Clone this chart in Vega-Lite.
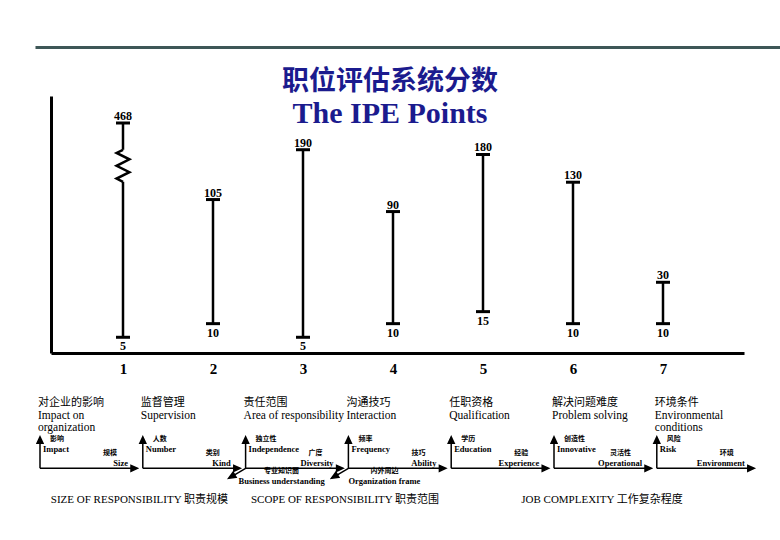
{
  "$schema": "https://vega.github.io/schema/vega-lite/v6.json",
  "width": 780,
  "height": 540,
  "autosize": "none",
  "padding": 0,
  "background": "white",
  "title": {
    "text": "职位评估系统分数",
    "subtitle": "The IPE Points",
    "anchor": "middle",
    "frame": "group",
    "offset": -130,
    "font": "Noto Sans CJK SC",
    "fontSize": 27,
    "fontWeight": "bold",
    "color": "#1b1b8e",
    "subtitleFont": "Liberation Serif",
    "subtitleFontSize": 30,
    "subtitleFontWeight": "bold",
    "subtitleColor": "#1b1b8e",
    "subtitlePadding": 3
  },
  "data": {
    "name": "factors",
    "values": [
      {"f": 1, "min": 5, "max": 468, "group": "SIZE OF RESPONSIBILITY 职责规模", "zh": "对企业的影响", "en": "Impact on\norganization", "vzh": "影响", "ven": "Impact", "hzh": "规模", "hen": "Size", "dzh": "", "den": "", "dims": 2},
      {"f": 2, "min": 10, "max": 105, "group": "SIZE OF RESPONSIBILITY 职责规模", "zh": "监督管理", "en": "Supervision", "vzh": "人数", "ven": "Number", "hzh": "类别", "hen": "Kind", "dzh": "", "den": "", "dims": 2},
      {"f": 3, "min": 5, "max": 190, "group": "SCOPE OF RESPONSIBILITY 职责范围", "zh": "责任范围", "en": "Area of responsibility", "vzh": "独立性", "ven": "Independence", "hzh": "广度", "hen": "Diversity", "dzh": "专业知识面", "den": "Business understanding", "dims": 3},
      {"f": 4, "min": 10, "max": 90, "group": "SCOPE OF RESPONSIBILITY 职责范围", "zh": "沟通技巧", "en": "Interaction", "vzh": "频率", "ven": "Frequency", "hzh": "技巧", "hen": "Ability", "dzh": "内外周边", "den": "Organization frame", "dims": 3},
      {"f": 5, "min": 15, "max": 180, "group": "JOB COMPLEXITY 工作复杂程度", "zh": "任职资格", "en": "Qualification", "vzh": "学历", "ven": "Education", "hzh": "经验", "hen": "Experience", "dzh": "", "den": "", "dims": 2},
      {"f": 6, "min": 10, "max": 130, "group": "JOB COMPLEXITY 工作复杂程度", "zh": "解决问题难度", "en": "Problem solving", "vzh": "创造性", "ven": "Innovative", "hzh": "灵活性", "hen": "Operational", "dzh": "", "den": "", "dims": 2},
      {"f": 7, "min": 10, "max": 30, "group": "JOB COMPLEXITY 工作复杂程度", "zh": "环境条件", "en": "Environmental\nconditions", "vzh": "风险", "ven": "Risk", "hzh": "环境", "hen": "Environment", "dzh": "", "den": "", "dims": 2}
    ]
  },
  "layer": [
    {
      "encoding": {
        "x": {
          "field": "f",
          "type": "quantitative",
          "scale": {"domain": [0.2, 7.9], "range": [51, 744], "nice": false, "zero": false},
          "axis": {"orient": "bottom", "offset": -187, "values": [1, 2, 3, 4, 5, 6, 7], "format": "d", "ticks": false, "grid": false, "title": null, "domainColor": "black", "domainWidth": 3, "labelFont": "Liberation Serif", "labelFontSize": 15, "labelFontWeight": "bold", "labelColor": "black", "labelPadding": 8, "labelFlush": false}
        }
      },
      "layer": [
        {
          "mark": {"type": "rule", "color": "black", "strokeWidth": 2.5},
          "encoding": {
            "y": {"field": "min", "type": "quantitative", "scale": {"type": "symlog", "constant": 30, "domain": [0, 200, 468, 600], "range": [353, 145.2, 123, 96], "nice": false, "zero": false, "clamp": true}, "axis": {"orient": "left", "offset": -51, "labels": false, "ticks": false, "grid": false, "title": null, "domainColor": "black", "domainWidth": 3}},
            "y2": {"field": "max"}
          }
        },
        {
          "mark": {"type": "tick", "orient": "horizontal", "size": 14, "thickness": 3, "color": "black", "opacity": 1},
          "encoding": {
            "y": {"field": "max", "type": "quantitative", "scale": {"type": "symlog", "constant": 30, "domain": [0, 200, 468, 600], "range": [353, 145.2, 123, 96], "nice": false, "zero": false, "clamp": true}, "axis": {"orient": "left", "offset": -51, "labels": false, "ticks": false, "grid": false, "title": null, "domainColor": "black", "domainWidth": 3}}
          }
        },
        {
          "mark": {"type": "tick", "orient": "horizontal", "size": 14, "thickness": 3, "color": "black", "opacity": 1},
          "encoding": {
            "y": {"field": "min", "type": "quantitative", "scale": {"type": "symlog", "constant": 30, "domain": [0, 200, 468, 600], "range": [353, 145.2, 123, 96], "nice": false, "zero": false, "clamp": true}, "axis": {"orient": "left", "offset": -51, "labels": false, "ticks": false, "grid": false, "title": null, "domainColor": "black", "domainWidth": 3}}
          }
        },
        {
          "transform": [{"filter": "datum.f == 1"}],
          "mark": {"type": "point", "shape": "M-0.25,-1 L0.25,-1 L0.25,1 L-0.25,1 Z", "size": 1024, "filled": true, "fill": "white", "strokeWidth": 0, "opacity": 1},
          "encoding": {
            "y": {"datum": 158, "type": "quantitative", "scale": {"type": "symlog", "constant": 30, "domain": [0, 200, 468, 600], "range": [353, 145.2, 123, 96], "nice": false, "zero": false, "clamp": true}, "axis": {"orient": "left", "offset": -51, "labels": false, "ticks": false, "grid": false, "title": null, "domainColor": "black", "domainWidth": 3}}
          }
        },
        {
          "transform": [{"filter": "datum.f == 1"}],
          "mark": {"type": "point", "shape": "M0,-1 L-0.4,-0.8 L0.4,-0.4 L-0.4,0 L0.4,0.4 L-0.4,0.8 L0,1", "size": 1024, "filled": false, "stroke": "black", "strokeWidth": 2.5, "opacity": 1},
          "encoding": {
            "y": {"datum": 158, "type": "quantitative", "scale": {"type": "symlog", "constant": 30, "domain": [0, 200, 468, 600], "range": [353, 145.2, 123, 96], "nice": false, "zero": false, "clamp": true}, "axis": {"orient": "left", "offset": -51, "labels": false, "ticks": false, "grid": false, "title": null, "domainColor": "black", "domainWidth": 3}}
          }
        },
        {
          "mark": {"type": "text", "font": "Liberation Serif", "fontSize": 12, "fontWeight": "bold", "color": "black", "baseline": "alphabetic", "dy": -3},
          "encoding": {
            "y": {"field": "max", "type": "quantitative", "scale": {"type": "symlog", "constant": 30, "domain": [0, 200, 468, 600], "range": [353, 145.2, 123, 96], "nice": false, "zero": false, "clamp": true}, "axis": {"orient": "left", "offset": -51, "labels": false, "ticks": false, "grid": false, "title": null, "domainColor": "black", "domainWidth": 3}},
            "text": {"field": "max", "type": "quantitative"}
          }
        },
        {
          "mark": {"type": "text", "font": "Liberation Serif", "fontSize": 12, "fontWeight": "bold", "color": "black", "baseline": "alphabetic", "dy": 13},
          "encoding": {
            "y": {"field": "min", "type": "quantitative", "scale": {"type": "symlog", "constant": 30, "domain": [0, 200, 468, 600], "range": [353, 145.2, 123, 96], "nice": false, "zero": false, "clamp": true}, "axis": {"orient": "left", "offset": -51, "labels": false, "ticks": false, "grid": false, "title": null, "domainColor": "black", "domainWidth": 3}},
            "text": {"field": "min", "type": "quantitative"}
          }
        }
      ]
    },
    {
      "encoding": {
        "x": {
          "field": "f",
          "type": "quantitative",
          "scale": {"domain": [0.95136, 8.19844], "range": [35, 780], "nice": false, "zero": false},
          "axis": {"orient": "top", "offset": -47, "labels": false, "ticks": false, "grid": false, "title": null, "domainColor": "#3e5757", "domainWidth": 3}
        }
      },
      "layer": [
        {
          "mark": {"type": "text", "align": "left", "baseline": "middle", "dx": -2, "dy": -2.5, "font": "Noto Sans CJK SC", "fontSize": 11, "color": "black"},
          "encoding": {
            "y": {"datum": "name_zh", "type": "nominal", "scale": {"type": "point", "domain": ["name_zh", "name_en", "v_zh", "v_en", "h_zh", "h_en", "axis", "d_zh", "d_en", "group"], "range": [405, 500], "padding": 0}, "axis": null},
            "text": {"field": "zh", "type": "nominal"}
          }
        },
        {
          "mark": {"type": "text", "align": "left", "baseline": "alphabetic", "dx": -2, "dy": 3.5, "lineBreak": "\n", "lineHeight": 12, "font": "Liberation Serif", "fontSize": 11.5, "color": "black"},
          "encoding": {
            "y": {"datum": "name_en", "type": "nominal", "scale": {"type": "point", "domain": ["name_zh", "name_en", "v_zh", "v_en", "h_zh", "h_en", "axis", "d_zh", "d_en", "group"], "range": [405, 500], "padding": 0}, "axis": null},
            "text": {"field": "en", "type": "nominal"}
          }
        },
        {
          "mark": {"type": "text", "align": "left", "baseline": "middle", "dx": 10, "dy": 13, "font": "Noto Sans CJK SC", "fontSize": 7, "fontWeight": "bold", "color": "black"},
          "encoding": {
            "y": {"datum": "v_zh", "type": "nominal", "scale": {"type": "point", "domain": ["name_zh", "name_en", "v_zh", "v_en", "h_zh", "h_en", "axis", "d_zh", "d_en", "group"], "range": [405, 500], "padding": 0}, "axis": null},
            "text": {"field": "vzh", "type": "nominal"}
          }
        },
        {
          "mark": {"type": "text", "align": "left", "baseline": "middle", "dx": 3, "dy": 12, "font": "Liberation Serif", "fontSize": 8.5, "fontWeight": "bold", "color": "black"},
          "encoding": {
            "y": {"datum": "v_en", "type": "nominal", "scale": {"type": "point", "domain": ["name_zh", "name_en", "v_zh", "v_en", "h_zh", "h_en", "axis", "d_zh", "d_en", "group"], "range": [405, 500], "padding": 0}, "axis": null},
            "text": {"field": "ven", "type": "nominal"}
          }
        },
        {
          "mark": {"type": "text", "align": "right", "baseline": "middle", "dx": 77, "dy": 5.8, "font": "Noto Sans CJK SC", "fontSize": 7, "fontWeight": "bold", "color": "black"},
          "encoding": {
            "y": {"datum": "h_zh", "type": "nominal", "scale": {"type": "point", "domain": ["name_zh", "name_en", "v_zh", "v_en", "h_zh", "h_en", "axis", "d_zh", "d_en", "group"], "range": [405, 500], "padding": 0}, "axis": null},
            "text": {"field": "hzh", "type": "nominal"}
          }
        },
        {
          "mark": {"type": "text", "align": "right", "baseline": "middle", "dx": 88, "dy": 5.2, "font": "Liberation Serif", "fontSize": 8.5, "fontWeight": "bold", "color": "black"},
          "encoding": {
            "y": {"datum": "h_en", "type": "nominal", "scale": {"type": "point", "domain": ["name_zh", "name_en", "v_zh", "v_en", "h_zh", "h_en", "axis", "d_zh", "d_en", "group"], "range": [405, 500], "padding": 0}, "axis": null},
            "text": {"field": "hen", "type": "nominal"}
          }
        },
        {
          "mark": {"type": "point", "size": 40000, "filled": true, "fill": "black", "stroke": "black", "strokeWidth": 1.5, "opacity": 1},
          "encoding": {
            "y": {"datum": "axis", "type": "nominal", "scale": {"type": "point", "domain": ["name_zh", "name_en", "v_zh", "v_en", "h_zh", "h_en", "axis", "d_zh", "d_en", "group"], "range": [405, 500], "padding": 0}, "axis": null},
            "shape": {
              "field": "dims",
              "type": "nominal",
              "scale": {
                "domain": [2, 3],
                "range": [
                  "M0,0 L0,-0.26 M-0.03,-0.25 L0,-0.315 L0.03,-0.25 Z M0,0 L0.92,0 M0.91,-0.03 L0.975,0 L0.91,0.03 Z",
                  "M0,0 L0,-0.26 M-0.03,-0.25 L0,-0.315 L0.03,-0.25 Z M0,0 L0.92,0 M0.91,-0.03 L0.975,0 L0.91,0.03 Z M0,0 L-0.11,0.065 M-0.0945,0.0904 L-0.17,0.1 L-0.1249,0.0386 Z"
                ]
              },
              "legend": null
            }
          }
        },
        {
          "transform": [{"filter": "datum.dims == 3"}],
          "mark": {"type": "text", "align": "center", "baseline": "middle", "dx": 36, "dy": -7.4, "font": "Noto Sans CJK SC", "fontSize": 7, "fontWeight": "bold", "color": "black"},
          "encoding": {
            "y": {"datum": "d_zh", "type": "nominal", "scale": {"type": "point", "domain": ["name_zh", "name_en", "v_zh", "v_en", "h_zh", "h_en", "axis", "d_zh", "d_en", "group"], "range": [405, 500], "padding": 0}, "axis": null},
            "text": {"field": "dzh", "type": "nominal"}
          }
        },
        {
          "transform": [{"filter": "datum.dims == 3"}],
          "mark": {"type": "text", "align": "center", "baseline": "middle", "dx": 36, "dy": -8.4, "font": "Liberation Serif", "fontSize": 8.5, "fontWeight": "bold", "color": "black"},
          "encoding": {
            "y": {"datum": "d_en", "type": "nominal", "scale": {"type": "point", "domain": ["name_zh", "name_en", "v_zh", "v_en", "h_zh", "h_en", "axis", "d_zh", "d_en", "group"], "range": [405, 500], "padding": 0}, "axis": null},
            "text": {"field": "den", "type": "nominal"}
          }
        },
        {
          "transform": [{"aggregate": [{"op": "mean", "field": "f", "as": "f"}], "groupby": ["group"]}],
          "mark": {"type": "text", "align": "center", "baseline": "middle", "dx": 48, "font": "Liberation Serif, Noto Sans CJK SC", "fontSize": 11, "color": "black"},
          "encoding": {
            "y": {"datum": "group", "type": "nominal", "scale": {"type": "point", "domain": ["name_zh", "name_en", "v_zh", "v_en", "h_zh", "h_en", "axis", "d_zh", "d_en", "group"], "range": [405, 500], "padding": 0}, "axis": null},
            "text": {"field": "group", "type": "nominal"}
          }
        }
      ]
    }
  ],
  "resolve": {"scale": {"x": "independent", "y": "independent"}, "axis": {"x": "independent", "y": "independent"}},
  "config": {"view": {"stroke": null}}
}
